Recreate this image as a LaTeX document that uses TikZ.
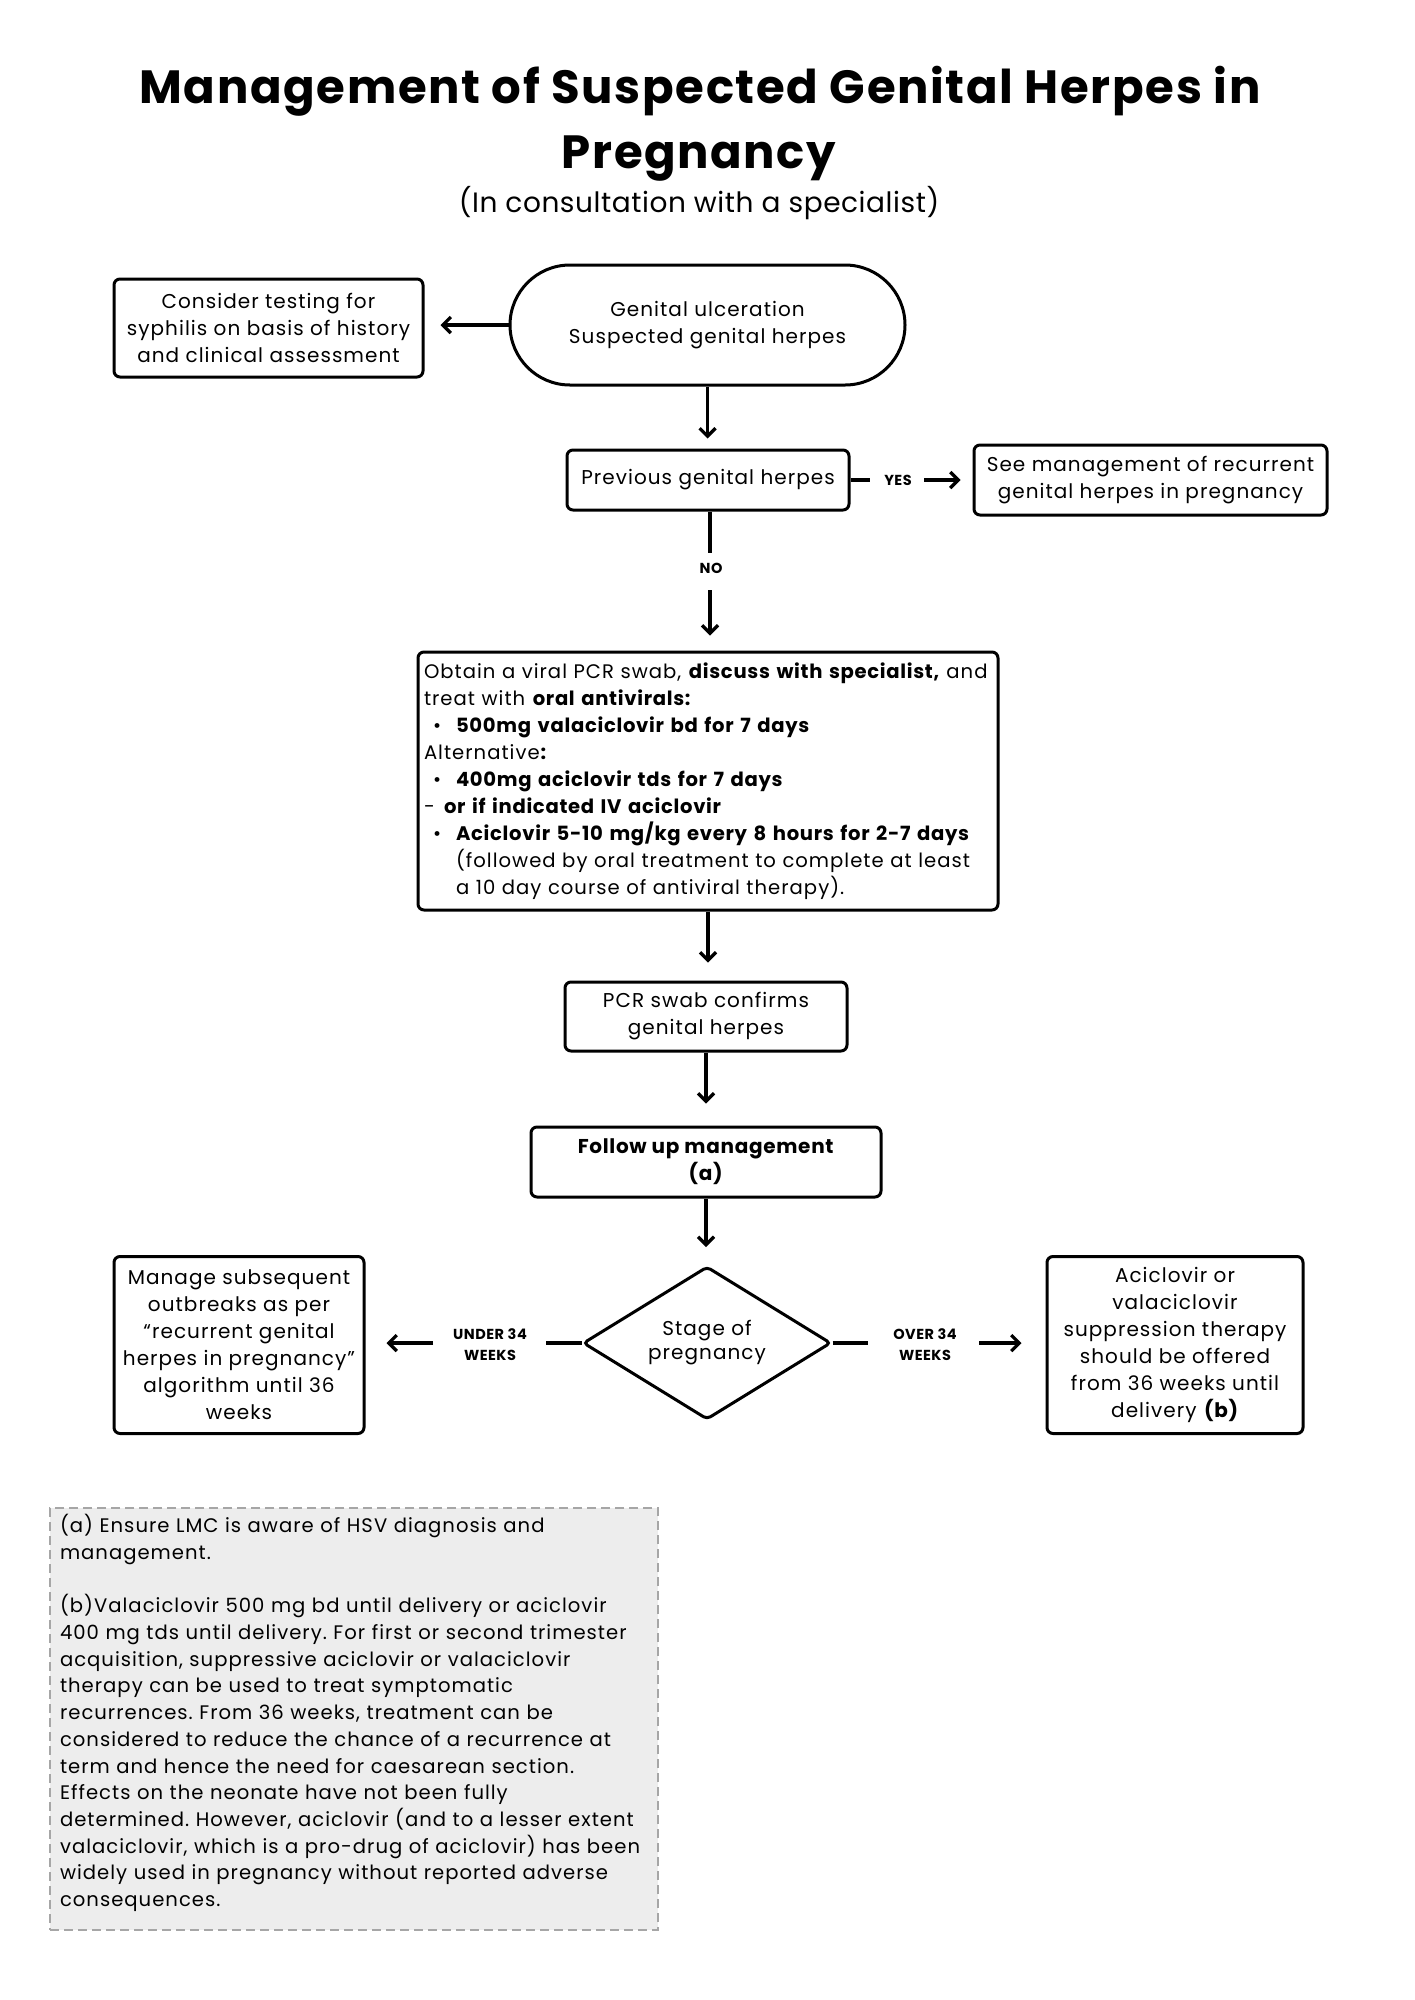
\documentclass[tikz,border=0pt]{standalone}
\usepackage{fontspec}
\setmainfont{Poppins}[LetterSpace=5.2, BoldFeatures={LetterSpace=3.5}]
\newfontfamily\titlefont{Poppins}[LetterSpace=3.5]
\newfontfamily\subfont{Poppins}[LetterSpace=2]
\usetikzlibrary{arrows.meta,shapes.geometric}
\definecolor{notefill}{HTML}{EDEDED}
\definecolor{notedraw}{HTML}{A6A6A6}
\begin{document}
\frenchspacing
\begin{tikzpicture}[x=1pt,y=-1pt,
  box/.style={draw, line width=3pt, rounded corners=6pt, align=center, inner sep=0pt,
    font=\fontsize{20}{27}\selectfont},
  lbl/.style={font=\fontsize{14.5}{21}\selectfont\bfseries, align=center, inner sep=0pt},
  conn/.style={line width=3.2pt},
  arr/.style={line width=3.2pt, -{Straight Barb[length=8pt,width=16pt]}}]
\useasboundingbox (0,0) rectangle (1414,2000);
% title
\node[anchor=base, inner sep=0pt] (t1) at (700,103) {\titlefont\fontsize{46.6}{50}\selectfont\bfseries Management of Suspected Genital Herpes in};
\node[anchor=base, inner sep=0pt] (t2) at (699,168) {\titlefont\fontsize{46.6}{50}\selectfont\bfseries Pregnancy};
\node[anchor=base, inner sep=0pt] (t3) at (699,212) {\subfont\fontsize{28}{32}\selectfont (In consultation with a specialist)};
% top row
\node[box, minimum width=309pt, minimum height=98pt] (A) at (268.5,328) {Consider testing for\\syphilis on basis of history\\and clinical assessment};
\node[box, rounded corners=60pt, minimum width=395pt, minimum height=120pt] (S) at (707.5,325) {Genital ulceration\\Suspected genital herpes};
\node[box, minimum width=282pt, minimum height=60pt] (P) at (708,480) {Previous genital herpes};
\node[box, minimum width=353pt, minimum height=70pt] (R) at (1150.5,480) {See management of recurrent\\genital herpes in pregnancy};
\node[lbl] (yes) at (898,480) {YES};
\coordinate (yesL) at (870,480);
\coordinate (yesR) at (924,480);
\node[lbl] (no) at (711,568) {NO};
\coordinate (noT) at (710,553);
\coordinate (noB) at (710,590);
% big box
\node[box, align=left, minimum width=580pt, minimum height=258pt, text width=568pt,
  font=\fontsize{19.6}{27}\selectfont] (B) at (708,781)
{Obtain a viral PCR swab, \textbf{discuss with specialist,} and\\
treat with \textbf{oral antivirals:}\\
\makebox[32pt][l]{\hspace{9pt}•}\textbf{500mg valaciclovir bd for 7 days}\\
Alternative\textbf{:}\\
\makebox[32pt][l]{\hspace{9pt}•}\textbf{400mg aciclovir tds for 7 days}\\
\makebox[20pt][l]{-}\textbf{or if indicated IV aciclovir}\\
\makebox[32pt][l]{\hspace{9pt}•}\textbf{Aciclovir 5-10 mg/kg every 8 hours for 2-7 days}\\
\hspace*{32pt}(followed by oral treatment to complete at least\\
\hspace*{32pt}a 10 day course of antiviral therapy).};
\node[box, minimum width=282pt, minimum height=69pt] (C) at (706,1016.5) {PCR swab confirms\\genital herpes};
\node[box, minimum width=350pt, minimum height=70pt] (F) at (706,1162) {\textbf{Follow up management}\\\textbf{(a)}};
\node[draw, diamond, line width=3pt, rounded corners=4pt, aspect=1.6, inner sep=0pt,
  minimum width=248pt, minimum height=153pt, align=center, font=\fontsize{20}{24}\selectfont] (D) at (707,1343) {Stage of\\pregnancy};
\node[box, minimum width=250pt, minimum height=177pt] (L) at (239,1345) {Manage subsequent\\outbreaks as per\\“recurrent genital\\herpes in pregnancy”\\algorithm until 36\\weeks};
\node[box, minimum width=256pt, minimum height=177pt] (Rt) at (1175,1345) {Aciclovir or\\valaciclovir\\suppression therapy\\should be offered\\from 36 weeks until\\delivery \textbf{(b)}};
\node[lbl] (under) at (490,1345) {UNDER 34\\WEEKS};
\node[lbl] (over) at (925,1345) {OVER 34\\WEEKS};
\coordinate (uR) at (546,1343);
\coordinate (uL) at (433,1343);
\coordinate (oL) at (868,1343);
\coordinate (oR) at (979,1343);
% note
\node[draw=notedraw, fill=notefill, line width=2.4pt, dash pattern=on 9pt off 5pt,
  minimum width=608pt, minimum height=422pt, inner sep=0pt] (N) at (354,1719) {};
\node[text width=590pt, align=left, inner sep=0pt,
  font=\fontsize{19.6}{26.7}\selectfont] (Ntext) at (355,1713)
{(a) Ensure LMC is aware of HSV diagnosis and\\
management.\\
\mbox{}\\
(b)Valaciclovir 500 mg bd until delivery or aciclovir\\
400 mg tds until delivery. For first or second trimester\\
acquisition, suppressive aciclovir or valaciclovir\\
therapy can be used to treat symptomatic\\
recurrences. From 36 weeks, treatment can be\\
considered to reduce the chance of a recurrence at\\
term and hence the need for caesarean section.\\
Effects on the neonate have not been fully\\
determined. However, aciclovir (and to a lesser extent\\
valaciclovir, which is a pro-drug of aciclovir) has been\\
widely used in pregnancy without reported adverse\\
consequences.};
% connectors
\draw[arr, shorten >=16pt] (S.west) -- (S.west -| A.east);
\draw[arr, shorten >=10pt] (S.south) -- (S.south |- P.north);
\draw[conn] (P.east) -- (yesL);
\draw[arr, shorten >=12pt] (yesR) -- (R.west);
\draw[conn] (P.south -| noT) -- (noT);
\draw[arr, shorten >=15pt] (noB) -- (noB |- B.north);
\draw[arr, shorten >=18pt] (B.south) -- (B.south |- C.north);
\draw[arr, shorten >=22pt] (C.south) -- (C.south |- F.north);
\draw[arr, shorten >=18pt] (F.south) -- (F.south |- D.north);
\draw[conn] (D.west) -- (uR);
\draw[arr, shorten >=21pt] (uL) -- (uL -| L.east);
\draw[conn] (D.east) -- (oL);
\draw[arr, shorten >=24pt] (oR) -- (oR -| Rt.west);
\end{tikzpicture}
\end{document}
